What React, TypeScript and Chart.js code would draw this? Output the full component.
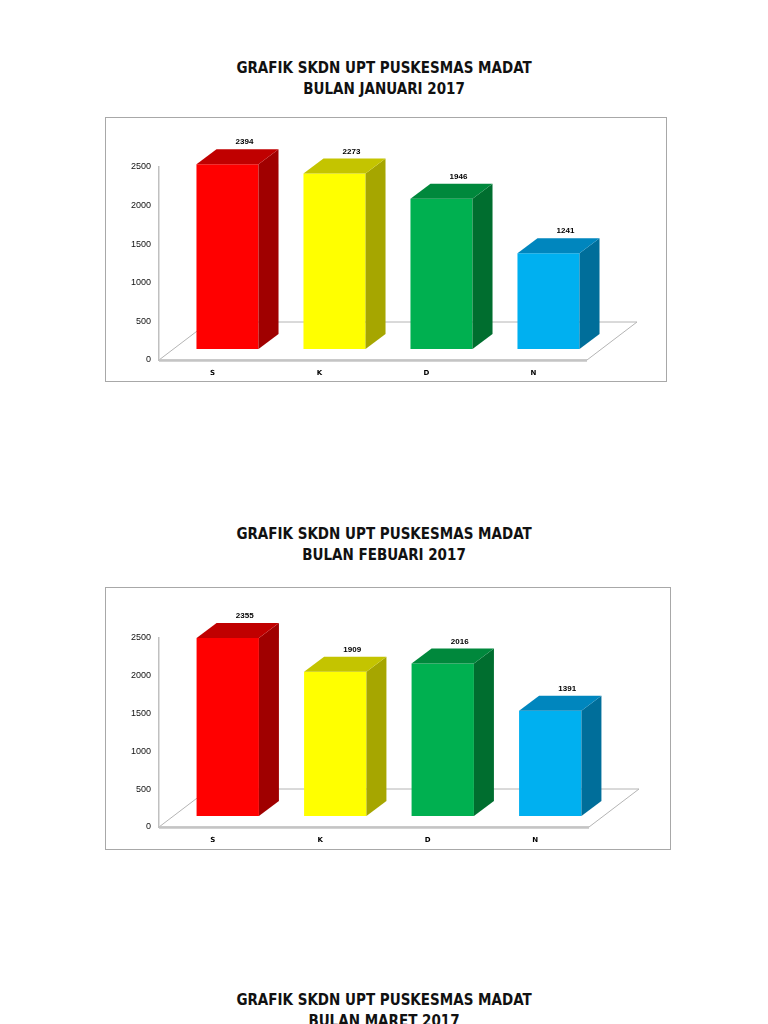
import React, { useEffect, useRef } from "react";
import { Chart, registerables } from "chart.js";

Chart.register(...registerables);

// ---- data ----
const CATEGORIES = ["S", "K", "D", "N"];
const JANUARI_VALUES = [2394, 2273, 1946, 1241];
const FEBUARI_VALUES = [2355, 1909, 2016, 1391];
const Y_TICKS = [0, 500, 1000, 1500, 2000, 2500];
const TITLE_LINE1 = "GRAFIK SKDN UPT PUSKESMAS MADAT";
const MONTH_TITLES = ["BULAN JANUARI 2017", "BULAN FEBUARI 2017", "BULAN MARET 2017"];

// ---- styles ----
const FRONT_COLORS = ["#FF0000", "#FFFF00", "#00B050", "#00B0F0"];
const SIDE_COLORS = ["#A00000", "#A6A600", "#006E2F", "#006E9A"];
const TOP_COLORS = ["#C00000", "#C4C400", "#00883C", "#0086BE"];

const FLOOR_DX = 50;
const FLOOR_DY = 38;
const SHIFT_X = 15;
const SHIFT_Y = 11;
const BAR_DX = 20;
const BAR_DY = 15;

const bar3d = {
  id: "bar3d",
  beforeDatasetsDraw(chart: any) {
    const { ctx, chartArea: a } = chart;
    ctx.save();
    ctx.fillStyle = "#ffffff";
    ctx.strokeStyle = "#b4b4b4";
    ctx.lineWidth = 1;
    ctx.beginPath();
    ctx.moveTo(a.left, a.bottom);
    ctx.lineTo(a.right, a.bottom);
    ctx.lineTo(a.right + FLOOR_DX, a.bottom - FLOOR_DY);
    ctx.lineTo(a.left + FLOOR_DX, a.bottom - FLOOR_DY);
    ctx.closePath();
    ctx.fill();
    ctx.stroke();
    ctx.strokeStyle = "#c4c4c4";
    ctx.lineWidth = 2.5;
    ctx.beginPath();
    ctx.moveTo(a.left, a.bottom + 0.5);
    ctx.lineTo(a.right, a.bottom + 0.5);
    ctx.stroke();
    ctx.restore();
    ctx.save();
    ctx.translate(SHIFT_X, -SHIFT_Y);
  },
  afterDatasetsDraw(chart: any) {
    const { ctx } = chart;
    ctx.restore();
    const meta = chart.getDatasetMeta(0);
    const values = chart.data.datasets[0].data;
    ctx.save();
    meta.data.forEach((bar: any, i: number) => {
      const { x, y, base, width } = bar.getProps(["x", "y", "base", "width"], true);
      const l = x - width / 2 + SHIFT_X;
      const r = x + width / 2 + SHIFT_X;
      const t = y - SHIFT_Y;
      const b = base - SHIFT_Y;
      // side face
      ctx.fillStyle = SIDE_COLORS[i];
      ctx.beginPath();
      ctx.moveTo(r, t);
      ctx.lineTo(r + BAR_DX, t - BAR_DY);
      ctx.lineTo(r + BAR_DX, b - BAR_DY);
      ctx.lineTo(r, b);
      ctx.closePath();
      ctx.fill();
      // top face
      ctx.fillStyle = TOP_COLORS[i];
      ctx.beginPath();
      ctx.moveTo(l, t);
      ctx.lineTo(r, t);
      ctx.lineTo(r + BAR_DX, t - BAR_DY);
      ctx.lineTo(l + BAR_DX, t - BAR_DY);
      ctx.closePath();
      ctx.fill();
      // value label
      ctx.fillStyle = "#000000";
      ctx.font = "bold 8px 'Liberation Sans Narrow', 'Liberation Sans', sans-serif";
      ctx.textAlign = "center";
      ctx.textBaseline = "middle";
      ctx.fillText(String(values[i]), x + SHIFT_X + 17, t - 22);
    });
    ctx.restore();
  },
};

type ChartProps = {
  values: number[];
  left: number;
  top: number;
  width: number;
  height: number;
  padTop: number;
  padRight: number;
  padBottom: number;
};

function Bar3DChart({ values, left, top, width, height, padTop, padRight, padBottom }: ChartProps) {
  const ref = useRef<HTMLCanvasElement | null>(null);
  const cw = width - 2;
  const ch = height - 2;
  useEffect(() => {
    if (!ref.current) return;
    const chart = new Chart(ref.current, {
      type: "bar",
      data: {
        labels: CATEGORIES,
        datasets: [
          {
            data: values,
            backgroundColor: FRONT_COLORS,
            borderWidth: 0,
            barPercentage: 0.58,
            categoryPercentage: 1,
            clip: false as any,
          },
        ],
      },
      options: {
        responsive: false,
        animation: false,
        events: [],
        layout: { padding: { top: padTop, right: padRight, left: 0, bottom: 0 } },
        plugins: {
          legend: { display: false },
          tooltip: { enabled: false },
          title: { display: false },
        },
        scales: {
          x: {
            grid: { display: false },
            border: { display: false },
            ticks: {
              color: "#000",
              font: { family: "'DejaVu Sans', sans-serif", size: 7, weight: "bold" },
              padding: 1,
            },
            afterFit: (s: any) => {
              s.height = padBottom;
            },
          },
          y: {
            min: Y_TICKS[0],
            max: Y_TICKS[Y_TICKS.length - 1],
            grid: { display: false, drawTicks: false },
            border: { display: true, color: "#c0c0c0", width: 1.5 },
            ticks: {
              stepSize: Y_TICKS[1] - Y_TICKS[0],
              color: "#111",
              font: { family: "'Liberation Sans Narrow', 'Liberation Sans', sans-serif", size: 9 },
              padding: 8,
              callback: (v: any) => String(v),
            },
            afterFit: (s: any) => {
              s.width = 53;
            },
          },
        },
      },
      plugins: [bar3d],
    });
    return () => chart.destroy();
  }, [values]);
  return (
    <div
      style={{
        position: "absolute",
        left,
        top,
        width,
        height,
        boxSizing: "border-box",
        border: "1px solid #a8a8a8",
        background: "#fff",
      }}
    >
      <canvas ref={ref} width={cw} height={ch} style={{ display: "block", width: cw, height: ch }} />
    </div>
  );
}

function Title({ top, month }: { top: number; month: string }) {
  return (
    <div
      style={{
        position: "absolute",
        left: 0,
        top,
        width: 752,
        textAlign: "center",
        fontFamily: "'DejaVu Sans Condensed', 'DejaVu Sans', sans-serif",
        fontWeight: "bold",
        fontSize: 15,
        lineHeight: "21px",
        color: "#111",
      }}
    >
      <div>{TITLE_LINE1}</div>
      <div>{month}</div>
    </div>
  );
}

export default function App() {
  return (
    <div style={{ position: "relative", width: 752, height: 1016, overflow: "hidden", background: "#fff" }}>
      <Title top={49.5} month={MONTH_TITLES[0]} />
      <Bar3DChart values={JANUARI_VALUES} left={97} top={109} width={562} height={265} padTop={49} padRight={79} padBottom={21} />
      <Title top={515.5} month={MONTH_TITLES[1]} />
      <Bar3DChart values={FEBUARI_VALUES} left={97} top={579} width={566} height={263} padTop={50} padRight={81} padBottom={22} />
      <Title top={981.5} month={MONTH_TITLES[2]} />
    </div>
  );
}
